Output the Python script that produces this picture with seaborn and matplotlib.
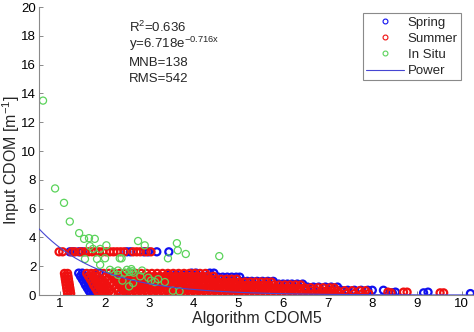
import numpy as np
import pandas as pd
import matplotlib
matplotlib.use("Agg")
import matplotlib.pyplot as plt
from matplotlib.lines import Line2D
import seaborn as sns

# ---------------------------------------------------------------------------
# Data: Input CDOM versus Algorithm CDOM5, grouped by season / source.
# Each group is written as (y level, [x values]) rows plus loose points.
# ---------------------------------------------------------------------------
spring_rows = [
    (3.00, [1.22, 1.30, 1.42, 1.50, 2.50, 2.58, 2.88, 2.98, 3.17, 3.44]),
    (1.52, [1.42, 1.50, 1.88, 3.95, 4.05, 4.36, 4.45]),
    (1.40, [3.45, 3.60, 3.75, 3.90]),
    (1.30, [1.46, 1.54]),
    (1.24, [4.55, 4.65, 4.75, 4.85, 4.95, 5.03]),
    (1.10, [1.50, 1.58]),
    (0.95, [5.10, 5.20, 5.30, 5.42, 5.54, 5.66, 5.78]),
    (0.90, [1.54, 1.62]),
    (0.76, [5.90, 6.00, 6.10, 6.20, 6.32, 6.44]),
    (0.70, [1.57, 1.65]),
    (0.55, [6.55, 6.68, 6.80, 6.95, 7.08, 7.22]),
    (0.50, [1.61, 1.69]),
    (0.33, [7.30, 7.45, 7.60, 7.75, 7.90, 8.00, 8.25]),
    (0.30, [1.65, 1.73]),
    (0.20, [8.52, 9.25]),
    (0.15, [8.45, 9.15]),
    (0.10, [1.69, 1.77, 10.20]),
    (0.05, [2.41]),
]

summer_rows = [
    (3.00, [0.98, 1.06, 1.26, 1.34, 1.46, 1.56, 1.64, 1.72, 1.80, 1.88, 1.96,
            2.04, 2.12, 2.20, 2.28, 2.36, 2.44, 2.64, 2.72, 2.80, 2.93, 3.04]),
    (1.50, [1.10, 1.17, 1.60, 1.70, 1.79,
            1.98, 2.10, 2.22, 2.34, 2.46, 2.58, 2.70, 2.82, 2.94, 3.06, 3.18,
            3.30, 3.42, 3.54, 3.66, 3.78, 3.90, 4.02, 4.14, 4.26]),
    (1.30, [1.11, 1.18, 1.64, 1.74, 1.83,
            2.04, 2.16, 2.28, 2.40, 2.52, 2.64, 2.76, 2.88, 3.00, 3.12, 3.24,
            3.36, 3.48, 3.60, 3.72, 3.84, 3.96, 4.08, 4.20, 4.32, 4.44]),
    (1.10, [1.12, 1.19, 1.68, 1.78, 1.88,
            2.09, 2.21, 2.33, 2.45, 2.57, 2.69, 2.81, 2.93, 3.05, 3.17, 3.29,
            3.41, 3.53, 3.65, 3.77, 3.89, 4.01, 4.13, 4.25, 4.37, 4.49, 4.61,
            4.73, 4.85, 4.96]),
    (0.90, [1.13, 1.20, 1.72, 1.82, 1.92, 1.99,
            2.15, 2.27, 2.39, 2.51, 2.63, 2.75, 2.87, 2.99, 3.11, 3.23, 3.35,
            3.47, 3.59, 3.71, 3.83, 3.95, 4.07, 4.19, 4.31, 4.43, 4.55, 4.67,
            4.79, 4.91, 5.03, 5.15, 5.27, 5.39, 5.51, 5.63, 5.74]),
    (0.70, [1.14, 1.21, 1.75, 1.85, 1.95, 2.03,
            2.20, 2.32, 2.44, 2.56, 2.68, 2.80, 2.92, 3.04, 3.16, 3.28, 3.40,
            3.52, 3.64, 3.76, 3.88, 4.00, 4.12, 4.24, 4.36, 4.48, 4.60, 4.72,
            4.84, 4.96, 5.08, 5.20, 5.32, 5.44, 5.56, 5.68, 5.80, 5.92, 6.04,
            6.16, 6.28, 6.40]),
    (0.50, [1.15, 1.22, 1.79, 1.89, 1.99, 2.07,
            2.26, 2.38, 2.50, 2.62, 2.74, 2.86, 2.98, 3.10, 3.22, 3.34, 3.46,
            3.58, 3.70, 3.82, 3.94, 4.06, 4.18, 4.30, 4.42, 4.54, 4.66, 4.78,
            4.90, 5.02, 5.14, 5.26, 5.38, 5.50, 5.62, 5.74, 5.86, 5.98, 6.10,
            6.22, 6.34, 6.48, 6.62, 6.78, 6.90, 7.05, 7.15]),
    (0.30, [1.16, 1.23, 1.83, 1.93, 2.03, 2.11,
            2.31, 2.43, 2.55, 2.67, 2.79, 2.91, 3.03, 3.15, 3.27, 3.39, 3.51,
            3.63, 3.75, 3.87, 3.99, 4.11, 4.23, 4.35, 4.47, 4.59, 4.71, 4.83,
            4.95, 5.07, 5.19, 5.31, 5.43, 5.55, 5.67, 5.79, 5.91, 6.03, 6.15,
            6.27, 6.39, 6.51, 6.63, 6.75, 6.87, 6.99, 7.11, 7.22, 7.38, 7.55,
            7.72, 7.85]),
    (0.20, [8.35, 8.70, 8.78]),
    (0.15, [8.42, 9.52, 9.60]),
    (0.10, [1.17, 1.24, 1.87, 1.97, 2.07, 2.15,
            2.36, 2.48, 2.60, 2.72, 2.84, 2.96, 3.08, 3.20, 3.32, 3.44, 3.56,
            3.68, 3.80, 3.92, 4.04, 4.16, 4.28, 4.40, 4.52, 4.64, 4.76, 4.88,
            5.00, 5.12, 5.24, 5.36, 5.48, 5.60, 5.72, 5.84, 5.96, 6.08, 6.20,
            6.32, 6.44, 6.56, 6.68, 6.80, 6.92, 7.04, 7.16, 7.28, 7.42, 7.60,
            7.78, 7.92]),
]

insitu_x = [0.62, 0.89, 1.09, 1.22, 1.43, 1.54, 1.65, 1.78, 1.67, 1.74, 1.90,
            2.04, 1.56, 1.83, 2.01, 1.90, 2.75, 2.90, 2.34, 2.38, 3.62, 3.64,
            3.42, 3.82, 4.57, 2.12, 2.20, 2.30, 2.45, 2.50, 2.55, 2.60, 2.65,
            2.62, 2.84, 2.98, 3.04, 3.13, 3.35, 2.55, 3.53, 3.68, 2.30, 2.40,
            2.80, 3.20, 2.64]
insitu_y = [13.5, 7.4, 6.4, 5.1, 4.3, 3.9, 3.95, 3.9, 3.4, 3.2, 3.2,
            3.45, 2.5, 2.5, 2.55, 2.1, 3.75, 3.45, 2.55, 2.55, 3.6, 3.1,
            2.55, 2.85, 2.7, 1.75, 1.6, 1.7, 1.55, 1.75, 1.6, 1.8, 1.55,
            1.65, 1.7, 1.2, 1.0, 0.9, 0.9, 0.6, 0.3, 0.25, 1.4, 1.0,
            1.3, 1.1, 0.83]

# Power-law fit reported on the chart: y = a * exp(b * x)
fit_a = 6.718
fit_b = -0.716
stats_lines = [r"R$^{2}$=0.636",
               r"y=6.718e$^{\mathrm{-0.716x}}$",
               "MNB=138",
               "RMS=542"]

season_names = ["Spring", "Summer", "In Situ"]
season_colors = {"Spring": "#1010f0", "Summer": "#f01010", "In Situ": "#5ad35a"}
season_lw = {"Spring": 1.6, "Summer": 1.6, "In Situ": 0.9}
line_color = "#4646d2"


def flatten(rows):
    xs, ys = [], []
    for yv, xlist in rows:
        xs.extend(xlist)
        ys.extend([yv] * len(xlist))
    return xs, ys


sx, sy = flatten(spring_rows)
ux, uy = flatten(summer_rows)
df = pd.DataFrame({
    "x": sx + ux + insitu_x,
    "y": sy + uy + insitu_y,
    "Season": ["Spring"] * len(sx) + ["Summer"] * len(ux) + ["In Situ"] * len(insitu_x),
})

# ---------------------------------------------------------------------------
sns.set_style("ticks")
plt.rcParams["font.family"] = ["Liberation Sans", "DejaVu Sans"]
plt.rcParams["mathtext.fontset"] = "custom"
plt.rcParams["mathtext.rm"] = "Liberation Sans"
plt.rcParams["mathtext.it"] = "Liberation Sans:italic"
plt.rcParams["axes.unicode_minus"] = False

fig = plt.figure(figsize=(4.74, 3.32), dpi=100)
ax = fig.add_axes([0.0823, 0.1114, 0.9177, 0.8675])

xmin, xmax = 0.53, 10.28

sns.scatterplot(data=df, x="x", y="y", hue="Season", hue_order=season_names,
                palette=season_colors, s=26, legend=False, ax=ax, zorder=2)
coll = ax.collections[0]
coll.set_edgecolors(coll.get_facecolors())
coll.set_facecolors("none")
coll.set_linewidths([season_lw[s] for s in df["Season"]])

fit_x = np.linspace(xmin, xmax, 300)
fit_y = fit_a * np.exp(fit_b * fit_x)
sns.lineplot(x=fit_x, y=fit_y, color=line_color, lw=0.8, ax=ax, zorder=3)

ax.set_xlim(xmin, xmax)
ax.set_ylim(0, 20)
ax.set_xticks(range(1, 11))
ax.set_yticks(range(0, 21, 2))
ax.tick_params(direction="in", length=3, width=0.7, colors="#8a8a8a",
               labelcolor="black", labelsize=9.5, pad=2)
for side in ("top", "right"):
    ax.spines[side].set_visible(False)
for side in ("left", "bottom"):
    ax.spines[side].set_color("#8a8a8a")
    ax.spines[side].set_linewidth(0.8)

ax.set_xlabel("Algorithm CDOM5", fontsize=11.5, labelpad=1)
ax.set_ylabel(r"Input CDOM [m$^{\mathrm{-1}}$]", fontsize=11.5)
ax.yaxis.set_label_coords(-0.040, 0.47)

for line, yf in zip(stats_lines, [0.913, 0.858, 0.795, 0.740]):
    ax.text(0.207, yf, line, transform=ax.transAxes, fontsize=9.5,
            va="baseline", ha="left")

handles = [Line2D([], [], ls="none", marker="o", ms=3.5, mfc="none",
                  mec=season_colors[n], mew=0.8) for n in season_names]
handles.append(Line2D([], [], color=line_color, lw=0.8))
leg = ax.legend(handles, season_names + ["Power"], loc="upper right",
                bbox_to_anchor=(0.97, 0.979), fontsize=9.5, frameon=True,
                fancybox=False, edgecolor="#8a8a8a", framealpha=1,
                handlelength=2.9, handletextpad=0.25, labelspacing=0.3,
                borderpad=0.25, borderaxespad=0)
leg.get_frame().set_linewidth(0.8)

fig.savefig("out.png", dpi=100)
